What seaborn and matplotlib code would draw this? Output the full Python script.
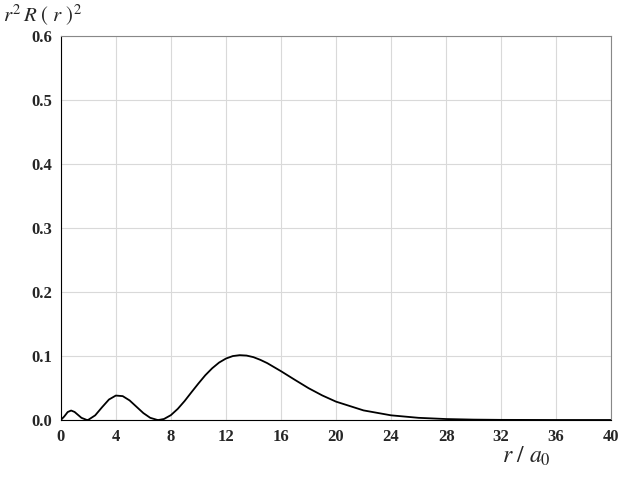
import numpy as np
import seaborn as sns
import matplotlib.pyplot as plt

# values
r_vals = [0, 0.25, 0.5, 0.75, 1.0, 1.25, 1.5, 1.9, 2.0, 2.5, 3.0, 3.5, 4.0, 4.5, 5.0, 5.5,
          6.0, 6.5, 7.0, 7.1, 7.5, 8, 8.5, 9, 9.5, 10, 10.5, 11, 11.5, 12, 12.5, 13, 13.5,
          14, 14.5, 15, 16, 17, 18, 19, 20, 22, 24, 26, 28, 30, 32, 36, 40]
p_vals = [0, 0.0055, 0.0124, 0.0148, 0.0126, 0.0080, 0.0034, 0.0, 0.0003, 0.0073, 0.0200,
          0.0320, 0.0382, 0.0373, 0.0306, 0.0207, 0.0108, 0.0034, 0.0002, 0.0, 0.0016,
          0.0076, 0.0174, 0.0297, 0.0435, 0.0570, 0.0699, 0.0808, 0.0897, 0.0960, 0.0999,
          0.1013, 0.1007, 0.0982, 0.0940, 0.0889, 0.0763, 0.0629, 0.0498, 0.0384, 0.0287,
          0.0150, 0.0073, 0.0034, 0.0015, 0.0006, 0.0002, 0.00002, 0.0]
x_ticks = list(range(0, 41, 4))
y_ticks = [0.0, 0.1, 0.2, 0.3, 0.4, 0.5, 0.6]

sns.set_style("white")
plt.rcParams['font.family'] = ['Liberation Serif', 'DejaVu Serif']
plt.rcParams['mathtext.fontset'] = 'stix'

fig, ax = plt.subplots(figsize=(6.4, 4.8), dpi=100)
fig.subplots_adjust(left=0.095, right=0.955, top=0.925, bottom=0.125)
sns.lineplot(x=r_vals, y=p_vals, ax=ax, color='black', linewidth=1.3)

ax.set_xticks(x_ticks)
ax.set_xticklabels([str(v) for v in x_ticks], fontweight='bold', fontsize=12)
ax.set_xticks(range(2, 40, 4), minor=True)
ax.set_yticks(y_ticks)
ax.set_yticklabels([f"{v:.1f}" for v in y_ticks], fontweight='bold', fontsize=12)
ax.set_yticks(np.arange(0.05, 0.6, 0.1), minor=True)
ax.set_xlim(0, 40)
ax.set_ylim(0, 0.6)
ax.grid(True, which='major', color='#d9d9d9', linewidth=0.8)
ax.tick_params(which='both', direction='out', length=3, color='#888888')
for s in ax.spines.values():
    s.set_color('#888888')
    s.set_linewidth(0.8)
ax.spines['left'].set_color('black')
ax.spines['bottom'].set_color('black')

fig.text(0.005, 0.955, r"$r^2\,R\ (\ r\ )^2$", fontsize=15)
fig.text(0.785, 0.035, r"$r\ /\ a_0$", fontsize=17)

fig.savefig("out.png", dpi=100)
